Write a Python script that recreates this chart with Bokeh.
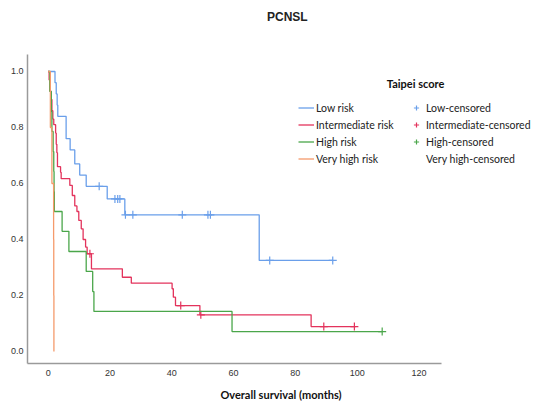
from bokeh.plotting import figure
from bokeh.models import Legend, LegendItem, Label, FixedTicker
from bokeh.embed import file_html
from bokeh.resources import INLINE

# Kaplan-Meier steps (months, survival)
low_t = [0, 2.2, 2.6, 2.9, 3.1, 5.8, 7.1, 8.6, 10.2, 12.3, 19.1, 24.8, 68.3, 92.1]
low_s = [1.0, 0.96, 0.92, 0.88, 0.84, 0.76, 0.72, 0.67, 0.63, 0.59, 0.545, 0.488, 0.325, 0.325]
low_ct = [16.5, 21.6, 22.5, 23.2, 25.0, 27.4, 43.4, 51.7, 52.5, 71.7, 92.1]
low_cs = [0.59, 0.545, 0.545, 0.545, 0.488, 0.488, 0.488, 0.488, 0.488, 0.325, 0.325]

int_t = [0, 0.3, 0.6, 0.9, 1.2, 1.5, 1.8, 2.4, 2.6, 2.8, 3.0, 4.0, 4.2, 7.0, 7.8, 8.6,
         9.3, 9.9, 10.7, 11.3, 12.1, 12.6, 14.0, 24.0, 26.9, 40.1, 40.5, 41.2, 49.1, 85.1, 99.5]
int_s = [1.0, 0.97, 0.93, 0.90, 0.86, 0.83, 0.81, 0.78, 0.74, 0.71, 0.66, 0.64, 0.617, 0.593, 0.557, 0.52,
         0.50, 0.468, 0.438, 0.40, 0.373, 0.349, 0.295, 0.265, 0.244, 0.224, 0.194, 0.164, 0.131, 0.089, 0.089]
int_ct = [13.5, 42.9, 49.4, 89.2, 99.1]
int_cs = [0.349, 0.164, 0.131, 0.089, 0.089]

high_t = [0, 0.5, 1.0, 1.2, 1.6, 1.8, 1.9, 2.0, 4.5, 6.7, 12.3, 14.4, 14.8, 59.5, 108.1]
high_s = [1.0, 0.929, 0.857, 0.786, 0.714, 0.643, 0.571, 0.50, 0.429, 0.357, 0.286, 0.214, 0.143, 0.071, 0.071]
high_ct = [108.1]
high_cs = [0.071]

vh_t = [0, 0.7, 1.2, 1.75, 1.8, 1.85]
vh_s = [1.0, 0.8, 0.6, 0.4, 0.2, 0.0]
vh_ct = []
vh_cs = []

risk_names = ["Low risk", "Intermediate risk", "High risk", "Very high risk"]
censor_names = ["Low-censored", "Intermediate-censored", "High-censored", "Very high-censored"]
colors = ["#6a9fea", "#e3335c", "#4aa64a", "#f59a6b"]

x_ticks = [0, 20, 40, 60, 80, 100, 120]
y_ticks = [0.0, 0.2, 0.4, 0.6, 0.8, 1.0]

# frame runs to the right and top edges so the legend and title are not clipped;
# the axes themselves are limited with bounds
p = figure(width=534, height=403, x_range=(-6.7, 157.4), y_range=(-0.043, 1.2536),
           output_backend="svg", toolbar_location=None,
           min_border_left=27, min_border_right=0, min_border_top=0, min_border_bottom=40)
p.grid.visible = False
p.outline_line_color = None
p.background_fill_color = "white"
p.border_fill_color = "white"

for ax in (p.xaxis, p.yaxis):
    ax.axis_line_color = "#9a9a9a"
    ax.axis_line_width = 1.5
    ax.major_tick_line_color = None
    ax.minor_tick_line_color = None
    ax.major_tick_out = 0
    ax.major_tick_in = 0
    ax.minor_tick_out = 0
    ax.minor_tick_in = 0
    ax.major_label_text_font = "Liberation Sans"
    ax.major_label_text_font_size = "9px"
    ax.major_label_text_color = "#333333"

p.xaxis.bounds = (-6.7, 127.3)
p.yaxis.bounds = (-0.043, 1.06)
p.xaxis.ticker = FixedTicker(ticks=x_ticks)
p.yaxis.ticker = FixedTicker(ticks=y_ticks)
p.yaxis.major_label_overrides = {v: "%.1f" % v for v in y_ticks}
p.xaxis.major_label_standoff = 6
p.yaxis.major_label_standoff = 4
p.xaxis.axis_label = "Overall survival (months)"
p.xaxis.axis_label_text_font = "Lato"
p.xaxis.axis_label_text_font_style = "bold"
p.xaxis.axis_label_text_font_size = "11px"
p.xaxis.axis_label_text_color = "#111111"
p.xaxis.axis_label_standoff = 9

curves = [(low_t, low_s, low_ct, low_cs), (int_t, int_s, int_ct, int_cs),
          (high_t, high_s, high_ct, high_cs), (vh_t, vh_s, vh_ct, vh_cs)]

risk_items = []
censor_items = []
for (t, s, ct, cs), name, cname, c in zip(curves, risk_names, censor_names, colors):
    r = p.step(t, s, mode="after", line_color=c, line_width=1.3)
    m = p.scatter(ct, cs, marker="cross", size=8, line_color=c, line_width=1.2)
    risk_items.append(LegendItem(label=name, renderers=[r]))
    censor_items.append(LegendItem(label=cname, renderers=[m]))

def make_legend(items, loc):
    leg = Legend(items=items, location=loc, orientation="vertical",
                 label_text_font="Lato", label_text_font_size="10.5px", label_text_color="#222222",
                 glyph_width=16, glyph_height=13, label_height=13, label_standoff=2,
                 spacing=4, padding=0, margin=0, border_line_color=None,
                 background_fill_alpha=0)
    return leg

p.add_layout(make_legend(risk_items, (271, 198)), "center")
p.add_layout(make_legend(censor_items, (381, 198)), "center")

p.add_layout(Label(x=118.9, y=0.957, text="Taipei score", text_align="center",
                   text_baseline="middle", text_font="Lato", text_font_style="bold",
                   text_font_size="11px", text_color="#111111"))
p.add_layout(Label(x=77.4, y=1.194, text="PCNSL", text_align="center",
                   text_baseline="middle", text_font="Liberation Sans", text_font_style="bold",
                   text_font_size="12px", text_color="#222222"))

open("out.html", "w").write(file_html(p, INLINE))
